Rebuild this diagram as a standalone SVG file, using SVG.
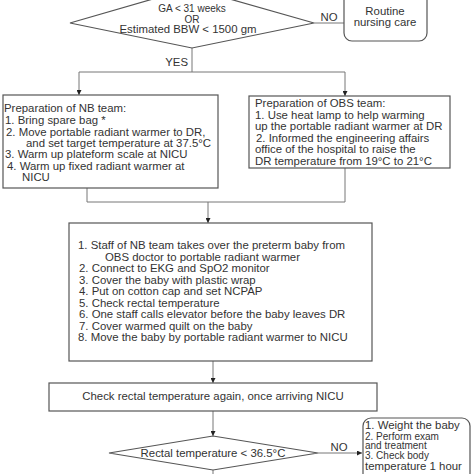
<svg xmlns="http://www.w3.org/2000/svg" width="474" height="474" viewBox="0 0 474 474">
<style>
text{font-family:"Liberation Sans",Arial,sans-serif;font-size:11.4px;fill:#333}
.c{text-anchor:middle}
.s{font-size:10px}
.box{fill:#fff;stroke:#555;stroke-width:1.2}
.ln{fill:none;stroke:#777;stroke-width:1}
</style>
<defs>
<marker id="ar" viewBox="0 0 6 6" refX="6" refY="3" markerWidth="5" markerHeight="5" orient="auto" markerUnits="userSpaceOnUse">
<path d="M0,0L6,3L0,6z" fill="#222"/>
</marker>
</defs>
<rect width="474" height="474" fill="#fff"/>
<g id="connectors">
<path class="ln" d="M314,23H344"/>
<path class="ln" d="M192,48V72"/>
<path class="ln" d="M79,72H345"/>
<path class="ln" d="M79,72V95" marker-end="url(#ar)"/>
<path class="ln" d="M345,72V96" marker-end="url(#ar)"/>
<path class="ln" d="M87,188V202H345V168"/>
<path class="ln" d="M208,202V223" marker-end="url(#ar)"/>
<path class="ln" d="M213,361V383" marker-end="url(#ar)"/>
<path class="ln" d="M213,411V436" marker-end="url(#ar)"/>
<path class="ln" d="M213,470V474"/>
<path class="ln" d="M318,453H362" marker-end="url(#ar)"/>
<text class="c" x="329" y="21">NO</text>
<text x="188" y="66" text-anchor="end">YES</text>
<text class="c" x="339" y="451">NO</text>
</g>
<g id="decision1">
<polygon class="box" points="70,23 191,-12 314,23 192,48"/>
<text class="c s" x="192" y="12">GA &lt; 31 weeks</text>
<text class="c s" x="192" y="22.5">OR</text>
<text class="c" x="188" y="33">Estimated BBW &lt; 1500 gm</text>
</g>
<g id="routine">
<rect class="box" x="344" y="-10" width="83" height="51" rx="8"/>
<text class="c" x="385" y="15">Routine</text>
<text class="c" x="385" y="25.5">nursing care</text>
</g>
<g id="nb">
<rect class="box" x="3" y="95" width="215" height="93"/>
<text x="4" y="112">Preparation of NB team:</text>
<text x="5" y="124">1. Bring spare bag *</text>
<text x="6" y="136">2. Move portable radiant warmer to DR,</text>
<text x="26" y="147">and set target temperature at 37.5°C</text>
<text x="5" y="158">3. Warm up plateform scale at NICU</text>
<text x="7" y="169.5">4. Warm up fixed radiant warmer at</text>
<text x="22" y="181">NICU</text>
</g>
<g id="obs">
<rect class="box" x="249" y="96" width="201" height="72"/>
<text x="255" y="107">Preparation of OBS team:</text>
<text x="255" y="118.5">1. Use heat lamp to help warming</text>
<text x="255" y="130">up the portable radiant warmer at DR</text>
<text x="256" y="141.5">2. Informed the engineering affairs</text>
<text x="255" y="153">office of the hospital to raise the</text>
<text x="255" y="164.5">DR temperature from 19°C to 21°C</text>
</g>
<g id="steps">
<rect class="box" x="69" y="223" width="303" height="138"/>
<text x="78" y="249">1. Staff of NB team takes over the preterm baby from</text>
<text x="105" y="260.5">OBS doctor to portable radiant warmer</text>
<text x="79" y="272">2. Connect to EKG and SpO2 monitor</text>
<text x="79" y="283.5">3. Cover the baby with plastic wrap</text>
<text x="79" y="295">4. Put on cotton cap and set NCPAP</text>
<text x="79" y="306.5">5. Check rectal temperature</text>
<text x="79" y="318">6. One staff calls elevator before the baby leaves DR</text>
<text x="79" y="329.5">7. Cover warmed quilt on the baby</text>
<text x="78" y="341">8. Move the baby by portable radiant warmer to NICU</text>
</g>
<g id="check">
<rect class="box" x="49" y="383" width="328" height="28"/>
<text class="c" x="213" y="400">Check rectal temperature again, once arriving NICU</text>
</g>
<g id="decision2">
<polygon class="box" points="109,453 213,436 318,453 213,470"/>
<text class="c" x="213" y="457">Rectal temperature &lt; 36.5°C</text>
</g>
<g id="care">
<rect class="box" x="363" y="418" width="107" height="70" rx="8"/>
<text x="365" y="429">1. Weight the baby</text>
<text class="s" x="365" y="439.5">2. Perform exam</text>
<text class="s" x="365" y="449">and treatment</text>
<text class="s" x="365" y="458.5">3. Check body</text>
<text x="365" y="469.5">temperature 1 hour</text>
</g>
</svg>
